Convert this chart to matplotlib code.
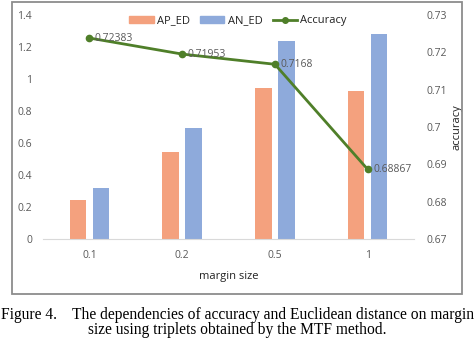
import matplotlib
matplotlib.use('Agg')
import matplotlib.pyplot as plt
import numpy as np
from matplotlib.patches import Rectangle
from matplotlib.lines import Line2D

margins = ['0.1', '0.2', '0.5', '1']
ap_ed = [0.244, 0.546, 0.946, 0.927]
an_ed = [0.32, 0.696, 1.238, 1.28]
accuracy = [0.72383, 0.71953, 0.7168, 0.68867]
acc_labels = ['0.72383', '0.71953', '0.7168', '0.68867']

AP_COL = '#F4A17E'
AN_COL = '#8EAADB'
ACC_COL = '#4F7F29'
TXT = '#595959'

plt.rcParams['font.family'] = ['Open Sans', 'DejaVu Sans']
fig = plt.figure(figsize=(4.74, 3.4), dpi=100)
fig.patches.append(Rectangle((12/474, 1-294/340), 450/474, 292/340, transform=fig.transFigure,
                             fill=False, edgecolor='#8c8c8c', lw=1.3))
ax = fig.add_axes([43/474, 1-239/340, 371/474, 224/340])
x = np.arange(len(margins))
w = 0.18
ax.bar(x-0.124, ap_ed, w, color=AP_COL, label='AP_ED')
ax.bar(x+0.124, an_ed, w, color=AN_COL, label='AN_ED')
ax.set_xlim(-0.5, 3.5)
ax.set_ylim(0, 1.4)
ax.set_yticks(np.arange(0, 1.41, 0.2))
ax.set_yticklabels(['0', '0.2', '0.4', '0.6', '0.8', '1', '1.2', '1.4'])
ax.set_xticks(x)
ax.set_xticklabels(margins)
ax.set_xlabel('margin size', fontsize=8, color='#222222', labelpad=7)
for s in ['top', 'right', 'left']:
    ax.spines[s].set_visible(False)
ax.spines['bottom'].set_color('#d9d9d9')
ax.tick_params(length=0, labelsize=7.5, labelcolor=TXT, pad=8)

ax2 = ax.twinx()
ax2.plot(x, accuracy, color=ACC_COL, lw=2, marker='o', ms=4.5)
for xi, v, t in zip(x, accuracy, acc_labels):
    ax2.annotate(t, (xi, v), xytext=(4, 0), textcoords='offset points', va='center', ha='left',
                 fontsize=7.5, color=TXT)
ax2.set_ylim(0.67, 0.73)
ax2.set_yticks([0.67, 0.68, 0.69, 0.70, 0.71, 0.72, 0.73])
ax2.set_yticklabels(['0.67', '0.68', '0.69', '0.7', '0.71', '0.72', '0.73'])
ax2.set_ylabel('accuracy', fontsize=8, color='#222222', labelpad=3)
for s in ax2.spines.values():
    s.set_visible(False)
ax2.tick_params(length=0, labelsize=7.5, labelcolor=TXT, pad=9)

handles = [Rectangle((0, 0), 1, 1, color=AP_COL), Rectangle((0, 0), 1, 1, color=AN_COL),
           Line2D([], [], color=ACC_COL, lw=2, marker='o', ms=4)]
fig.legend(handles, ['AP_ED', 'AN_ED', 'Accuracy'], loc='center', bbox_to_anchor=(238/474, 1-21/340),
           ncol=3, frameon=False, fontsize=8, handlelength=2.2, handleheight=0.6,
           columnspacing=0.9, handletextpad=0.3, labelcolor='#222222')

fig.text(1/474, 1-315/340, 'Figure 4.', family='Liberation Serif', fontsize=11.2, va='center')
fig.text(72/474, 1-315/340, 'The dependencies of accuracy and Euclidean distance on margin',
         family='Liberation Serif', fontsize=11.2, va='center')
fig.text(0.5, 1-330/340, 'size using triplets obtained by the MTF method.',
         family='Liberation Serif', fontsize=11.2, va='center', ha='center')

fig.savefig('out.png', dpi=100)
